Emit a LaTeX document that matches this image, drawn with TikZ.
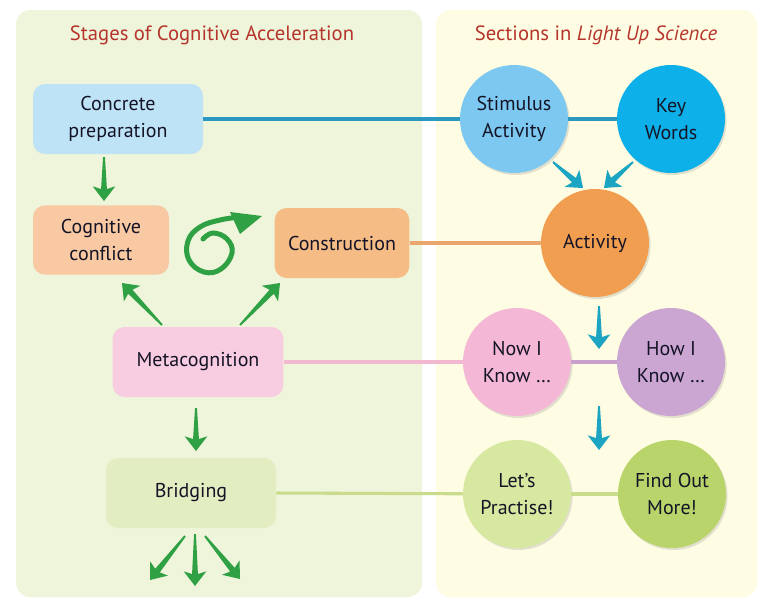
\documentclass[tikz,border=0pt]{standalone}
\usepackage{fontspec}
\setmainfont{PT Sans}
\usetikzlibrary{calc,shadows}
\definecolor{panelL}{HTML}{EEF5DA}
\definecolor{panelR}{HTML}{FEFCE2}
\definecolor{titlered}{HTML}{B5342C}
\definecolor{txt}{HTML}{141426}
\definecolor{cpfill}{HTML}{BEE3F7}
\definecolor{ccfill}{HTML}{F8C9A2}
\definecolor{confill}{HTML}{F6BC86}
\definecolor{metafill}{HTML}{F8CCE1}
\definecolor{brifill}{HTML}{E3EDC2}
\definecolor{stimfill}{HTML}{7CC8F0}
\definecolor{keyfill}{HTML}{0DB0E8}
\definecolor{actfill}{HTML}{F19E50}
\definecolor{nowfill}{HTML}{F4B7D6}
\definecolor{howfill}{HTML}{CBA6D3}
\definecolor{letsfill}{HTML}{D7E8A0}
\definecolor{findfill}{HTML}{B8D46A}
\definecolor{lblue}{HTML}{2A98C0}
\definecolor{lorange}{HTML}{EBA66E}
\definecolor{lpink}{HTML}{F2B8CF}
\definecolor{llav}{HTML}{C7A0CC}
\definecolor{lgreen}{HTML}{C8DC8C}
\definecolor{agreen}{HTML}{2FA043}
\definecolor{acyan}{HTML}{1BA5C2}
\newcommand\spike[3]{%
  \coordinate (sH) at ($(#2)!9pt!(#1)$);
  \coordinate (sB) at ($(#2)!11pt!(#1)$);
  \fill[#3] ($(#1)!0.7pt!90:(#2)$) -- ($(sH)!2.2pt!90:(#2)$) -- ($(sB)!8.5pt!90:(#2)$) -- (#2)
    -- ($(sB)!8.5pt!-90:(#2)$) -- ($(sH)!2.2pt!-90:(#2)$) -- ($(#1)!0.7pt!-90:(#2)$) -- cycle;}
\begin{document}
\begin{tikzpicture}[x=0.75pt,y=-0.75pt,
  txtfont/.style={font=\fontsize{15}{20.2}\selectfont, text=txt},
  box/.style={txtfont, rounded corners=9pt, align=center, inner sep=0pt},
  circ/.style={txtfont, circle, align=center, inner sep=0pt, minimum size=81pt,
    drop shadow={opacity=0.22, shadow xshift=1.2pt, shadow yshift=-1.5pt}},
  title/.style={font=\fontsize{15.5}{17}\selectfont, text=titlered},
  conn/.style={line width=2.3pt}]
\useasboundingbox (0,0) rectangle (763,608);
\fill[white] (0,0) rectangle (763,608);
\fill[panelL, rounded corners=11pt] (16,10) rectangle (422,597);
\fill[panelR, rounded corners=11pt] (436,10) rectangle (757,597);
\node[title] (t1) at (212,35) {Stages of Cognitive Acceleration};
\node[title] (t2) at (596,35) {Sections in \textit{Light Up Science}};
% boxes
\node[box, fill=cpfill, minimum width=127.5pt, minimum height=52.5pt] (cp) at (118,119) {Concrete\\preparation};
\node[box, fill=ccfill, minimum width=102pt, minimum height=52pt] (cc) at (101,240) {Cognitive\\conflict};
\node[box, fill=confill, minimum width=101pt, minimum height=52.5pt] (con) at (342,243) {Construction};
\node[box, fill=metafill, minimum width=128pt, minimum height=52.5pt] (meta) at (198,362) {Metacognition};
\node[box, fill=brifill, minimum width=127.5pt, minimum height=52.5pt] (bri) at (191,493) {Bridging};
% connectors (lines)
\draw[conn, lblue] (cp.east) -- (514,119);
\draw[conn, lorange] (con.east) -- (595,243);
\draw[conn, lpink] (meta.east) -- (517,362);
\draw[conn, lgreen] (bri.east) -- (517,494);
% circles
\node[circ, fill=stimfill] (stim) at (514,119) {Stimulus\\Activity};
\node[circ, fill=keyfill] (key) at (671,119) {Key\\Words};
\node[circ, fill=actfill] (act) at (595,243) {Activity};
\node[circ, fill=nowfill] (now) at (517,362) {Now I\\Know \dots};
\node[circ, fill=howfill] (how) at (671,362) {How I\\Know \dots};
\node[circ, fill=letsfill] (lets) at (517,494) {Let’s\\Practise!};
\node[circ, fill=findfill] (find) at (672,494) {Find Out\\More!};
\draw[conn, lblue] (stim.east) -- (key.west);
\draw[conn, llav] (now.east) -- (how.west);
\draw[conn, lgreen] (lets.east) -- (find.west);
% green spike arrows
\coordinate (a1s) at (104,157); \coordinate (a1e) at (104,201);
\coordinate (a2s) at (162,325); \coordinate (a2e) at (122,283);
\coordinate (a3s) at (240,325); \coordinate (a3e) at (280,283);
\coordinate (a4s) at (196,408); \coordinate (a4e) at (196,451);
\coordinate (a5s) at (185,536); \coordinate (a5e) at (150,580);
\coordinate (a6s) at (195,534); \coordinate (a6e) at (195,586);
\coordinate (a7s) at (205,536); \coordinate (a7e) at (240,579);
\spike{a1s}{a1e}{agreen}
\spike{a2s}{a2e}{agreen}
\spike{a3s}{a3e}{agreen}
\spike{a4s}{a4e}{agreen}
\spike{a5s}{a5e}{agreen}
\spike{a6s}{a6e}{agreen}
\spike{a7s}{a7e}{agreen}
% cyan arrows
\coordinate (c1s) at (553,162); \coordinate (c1e) at (583,188);
\coordinate (c2s) at (633,162); \coordinate (c2e) at (604,188);
\coordinate (c3s) at (599,306); \coordinate (c3e) at (599,349);
\coordinate (c4s) at (599,406); \coordinate (c4e) at (599,450);
\spike{c1s}{c1e}{acyan}
\spike{c2s}{c2e}{acyan}
\spike{c3s}{c3e}{acyan}
\spike{c4s}{c4e}{acyan}
% spiral
\draw[agreen, line width=3.75pt, line cap=round] plot[smooth, tension=0.7] coordinates
  {(203,239) (213,233) (227,239) (232,253) (221,269) (204,272) (189,260) (188,241) (200,227) (220,220) (240,217)};
\fill[agreen] (230,212) -- (262,216) -- (240,234) -- cycle;
\end{tikzpicture}
\end{document}
